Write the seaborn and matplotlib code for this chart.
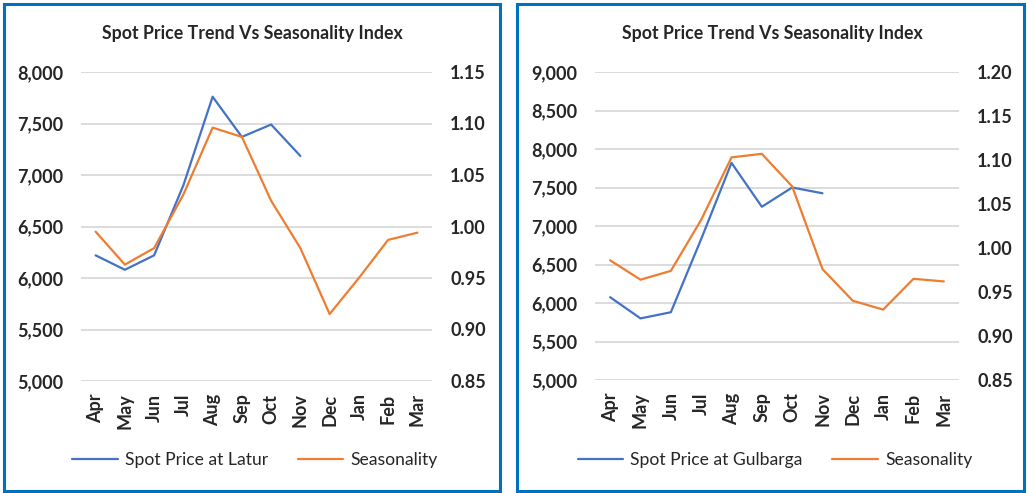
import numpy as np
import pandas as pd
import matplotlib
matplotlib.use("Agg")
import matplotlib.pyplot as plt
import seaborn as sns
from matplotlib.patches import Rectangle
from matplotlib.ticker import FuncFormatter

months = ["Apr", "May", "Jun", "Jul", "Aug", "Sep", "Oct", "Nov", "Dec", "Jan", "Feb", "Mar"]

# Latur panel
latur_price = [6220, 6080, 6220, 6900, 7760, 7370, 7490, 7185, np.nan, np.nan, np.nan, np.nan]
latur_season = [0.995, 0.963, 0.979, 1.031, 1.096, 1.087, 1.025, 0.979, 0.915, 0.950, 0.987, 0.994]

# Gulbarga panel
gulbarga_price = [6075, 5800, 5880, 6830, 7820, 7250, 7500, 7425, np.nan, np.nan, np.nan, np.nan]
gulbarga_season = [0.986, 0.964, 0.974, 1.032, 1.103, 1.107, 1.070, 0.976, 0.940, 0.930, 0.965, 0.962]

title = "Spot Price Trend Vs Seasonality Index"
BLUE = "#4472C4"
ORANGE = "#ED7D31"
GRID = "#D9D9D9"
BORDER = "#0070C0"

sns.set_theme(style="white")
plt.rcParams["font.family"] = ["Lato", "DejaVu Sans"]

W, H = 1027, 493
fig = plt.figure(figsize=(W / 100, H / 100), dpi=100)


def px_axes(x0, y0, x1, y1):
    return fig.add_axes([x0 / W, 1 - y1 / H, (x1 - x0) / W, (y1 - y0) / H])


def draw_panel(box, plot, price, season, city, price_ticks, season_ticks, title_x, legend_x):
    # panel border
    bx0, by0, bx1, by1 = box
    fig.patches.append(Rectangle((bx0 / W, 1 - by1 / H), (bx1 - bx0) / W, (by1 - by0) / H,
                                 transform=fig.transFigure, fill=False,
                                 edgecolor=BORDER, lw=2.2, zorder=0))

    ax = px_axes(*plot)
    df = pd.DataFrame({"pos": np.arange(len(months)), "price": price, "season": season})

    sns.lineplot(data=df, x="pos", y="price", ax=ax, color=BLUE, lw=1.6,
                 label="Spot Price at " + city, legend=False)
    ax2 = ax.twinx()
    sns.lineplot(data=df, x="pos", y="season", ax=ax2, color=ORANGE, lw=1.6,
                 label="Seasonality", legend=False)

    ax.set_xlim(-0.5, len(months) - 0.5)
    ax.set_ylim(price_ticks[0], price_ticks[-1])
    ax2.set_ylim(season_ticks[0], season_ticks[-1])
    ax.set_yticks(price_ticks)
    ax2.set_yticks(season_ticks)
    ax.yaxis.set_major_formatter(FuncFormatter(lambda v, p: f"{v:,.0f}"))
    ax2.yaxis.set_major_formatter(FuncFormatter(lambda v, p: f"{v:.2f}"))
    ax.set_xticks(df["pos"])
    ax.set_xticklabels(months, rotation=90)

    ax.grid(axis="y", color=GRID, lw=1.3)
    ax.grid(axis="x", visible=False)
    ax2.grid(False)
    for a in (ax, ax2):
        for s in a.spines.values():
            s.set_visible(False)
        a.set_xlabel("")
        a.set_ylabel("")
    ax.tick_params(axis="y", length=0, pad=13, labelsize=13)
    ax2.tick_params(axis="y", length=0, pad=13, labelsize=13)
    ax.tick_params(axis="x", length=0, pad=9, labelsize=13)
    for lab in ax.get_yticklabels() + ax2.get_yticklabels() + ax.get_xticklabels():
        lab.set_fontweight("bold")

    fig.text(title_x / W, 1 - 33 / H, title, ha="center", va="center",
             fontsize=12.8, fontweight="bold")

    h1, l1 = ax.get_legend_handles_labels()
    h2, l2 = ax2.get_legend_handles_labels()
    fig.legend(h1 + h2, l1 + l2, loc="center", bbox_to_anchor=(legend_x / W, 1 - 460 / H),
               ncol=2, frameon=False, fontsize=12.6, handlelength=2.6,
               handletextpad=0.4, columnspacing=1.7)


draw_panel((4, 4, 500, 491), (81, 72, 432, 381), latur_price, latur_season, "Latur",
           [5000, 5500, 6000, 6500, 7000, 7500, 8000],
           [0.85, 0.90, 0.95, 1.00, 1.05, 1.10, 1.15], 252, 255)

draw_panel((517, 4, 1024, 491), (595, 72, 959, 380), gulbarga_price, gulbarga_season, "Gulbarga",
           [5000, 5500, 6000, 6500, 7000, 7500, 8000, 8500, 9000],
           [0.85, 0.90, 0.95, 1.00, 1.05, 1.10, 1.15, 1.20], 772, 775)

fig.savefig("out.png", dpi=100)
